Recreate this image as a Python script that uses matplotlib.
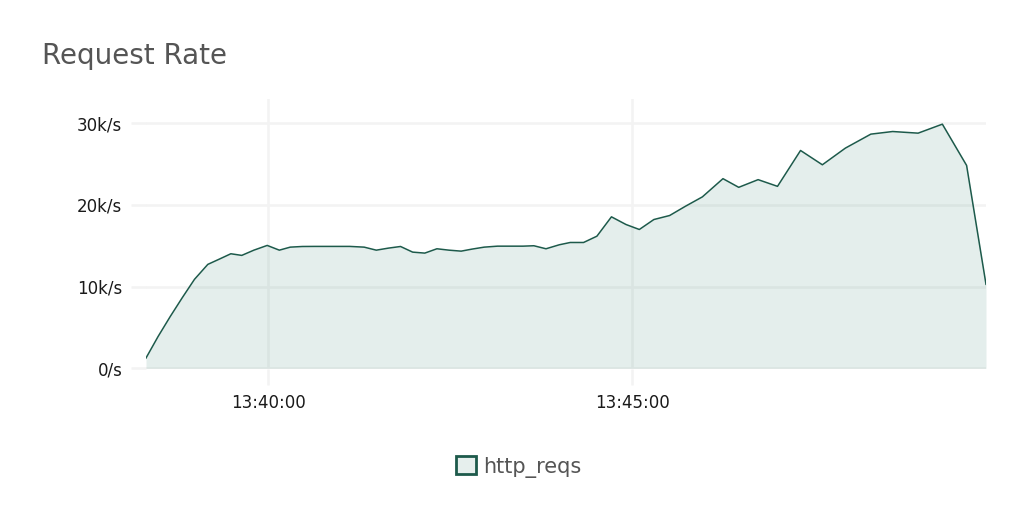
import numpy as np
import pandas as pd
import matplotlib
matplotlib.use('Agg')
import matplotlib.pyplot as plt
import matplotlib.dates as mdates
from matplotlib.patches import Patch
from matplotlib.ticker import FuncFormatter

plt.rcParams['font.family'] = ['DejaVu Sans']

# seconds relative to 13:40:00, request rate in req/s
base = pd.Timestamp('2023-01-01 13:40:00')
offsets = [-101, -91, -81, -71, -61, -50, -41, -31, -22, -12,
           -1, 9, 18, 28, 38, 47, 57, 67, 79, 89,
           99, 109, 119, 129, 139, 149, 159, 168, 178, 189,
           199, 210, 219, 229, 240, 249, 260, 271, 283, 295,
           306, 318, 331, 344, 358, 375, 388, 404, 420, 439,
           457, 476, 497, 515, 536, 556, 576, 592]
rate_k = [1.26, 3.90, 6.34, 8.66, 10.89, 12.72, 13.33, 14.02, 13.82, 14.46,
          15.04, 14.46, 14.83, 14.91, 14.92, 14.92, 14.92, 14.92, 14.83, 14.46,
          14.71, 14.91, 14.22, 14.10, 14.63, 14.46, 14.34, 14.59, 14.83, 14.95,
          14.95, 14.95, 15.00, 14.63, 15.12, 15.40, 15.40, 16.17, 18.54, 17.60,
          16.99, 18.21, 18.70, 19.83, 20.98, 23.21, 22.15, 23.09, 22.27, 26.66,
          24.91, 26.95, 28.66, 28.98, 28.78, 29.88, 24.83, 10.28]
series_name = 'http_reqs'
yticks = [0, 10000, 20000, 30000]

times = base + pd.to_timedelta(offsets, unit='s')
rate = np.array(rate_k) * 1000

line_c = '#1d5a4b'
fill_c = '#267a69'
grid_c = '#f3f3f3'

fig = plt.figure(figsize=(10.24, 5.26), dpi=100)
ax = fig.add_axes([146/1024, 1-369.3/526, 840/1024, 270.3/526])

ax.fill_between(times, 0, rate, color=fill_c, alpha=0.12, lw=0, zorder=2)
ax.plot(times, rate, color=line_c, lw=1.1, zorder=3)

ax.set_xlim(times[0], times[-1])
ax.set_ylim(-120, 32960)
ax.set_yticks(yticks)
ax.yaxis.set_major_formatter(FuncFormatter(lambda v, p: '0/s' if v == 0 else '%dk/s' % (v/1000)))
ax.xaxis.set_major_locator(mdates.MinuteLocator(byminute=[40, 45]))
ax.xaxis.set_major_formatter(mdates.DateFormatter('%H:%M:%S'))

ax.set_axisbelow(True)
ax.grid(True, color=grid_c, lw=1.8, zorder=0)
for s in ax.spines.values():
    s.set_visible(False)
ax.tick_params(axis='both', color=grid_c, width=1.8, labelsize=12, labelcolor='#1a1a1a')
ax.tick_params(axis='y', length=11, pad=6)
ax.tick_params(axis='x', length=11.5, pad=6)

fig.text(42/1024, 1-64/526, 'Request Rate', fontsize=20, color='#555555', va='baseline')

handle = Patch(facecolor='#e6efed', edgecolor=line_c, lw=2)
fig.legend([handle], [series_name], loc='center', bbox_to_anchor=(519/1024, 1-467/526),
           frameon=False, fontsize=15, labelcolor='#555555',
           handlelength=0.95, handleheight=0.95, handletextpad=0.35)

fig.savefig('out.png', dpi=100)
plt.close(fig)
